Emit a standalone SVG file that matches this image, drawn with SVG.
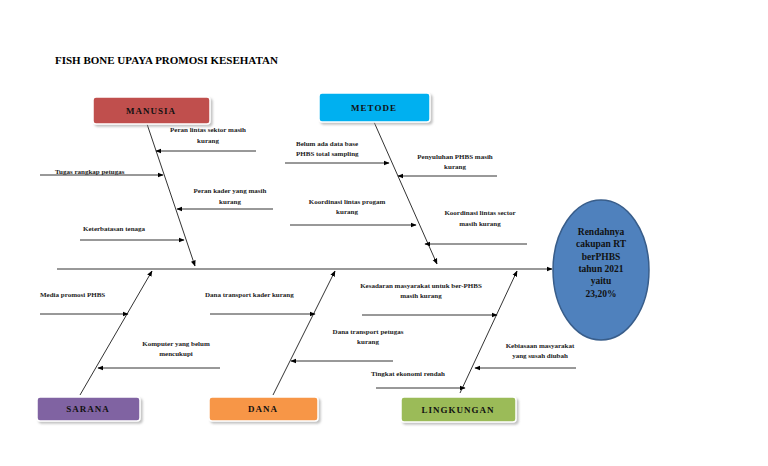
<svg xmlns="http://www.w3.org/2000/svg" width="768" height="466" viewBox="0 0 768 466">
<defs>
<marker id="ah" viewBox="0 0 10 10" refX="9" refY="5" markerWidth="6" markerHeight="6" orient="auto"><path d="M0,1 L10,5 L0,9 z" fill="#000"/></marker>
<filter id="sh" x="-10%" y="-10%" width="130%" height="140%"><feDropShadow dx="2" dy="2" stdDeviation="1" flood-color="#999" flood-opacity="0.6"/></filter>
</defs>
<style>
.t{font-family:"Liberation Serif",serif;font-size:7px;font-weight:bold;fill:#222}
.c{text-anchor:middle}
.b{font-family:"Liberation Serif",serif;font-size:9px;font-weight:bold;letter-spacing:1px;text-anchor:middle;fill:#111}
.l{stroke:#333;stroke-width:1;fill:none;marker-end:url(#ah)}
.box{stroke:#fff;stroke-width:1.5;filter:url(#sh)}
</style>
<rect width="768" height="466" fill="#fff"/>
<text x="55" y="64" font-family="Liberation Serif,serif" font-size="11" font-weight="bold">FISH BONE UPAYA PROMOSI KESEHATAN</text>
<g id="connectors">
<line class="l" x1="57" y1="269" x2="552" y2="269"/>
<line class="l" x1="147" y1="124" x2="195" y2="266"/>
<line class="l" x1="374" y1="122" x2="437" y2="264"/>
<line class="l" x1="80" y1="395" x2="152" y2="271"/>
<line class="l" x1="273" y1="395" x2="335" y2="271"/>
<line class="l" x1="460" y1="393" x2="517" y2="271"/>
<line class="l" x1="256" y1="151" x2="156" y2="151"/>
<line class="l" x1="40" y1="175" x2="163" y2="175"/>
<line class="l" x1="273" y1="209" x2="177" y2="209"/>
<line class="l" x1="80" y1="240" x2="184" y2="240"/>
<line class="l" x1="285" y1="163" x2="389" y2="163"/>
<line class="l" x1="497" y1="176" x2="398" y2="176"/>
<line class="l" x1="290" y1="225" x2="416" y2="225"/>
<line class="l" x1="527" y1="244" x2="425" y2="244"/>
<line class="l" x1="40" y1="314" x2="128" y2="314"/>
<line class="l" x1="220" y1="368" x2="98" y2="368"/>
<line class="l" x1="210" y1="314" x2="315" y2="314"/>
<line class="l" x1="393" y1="361" x2="291" y2="361"/>
<line class="l" x1="362" y1="315" x2="497" y2="315"/>
<line class="l" x1="576" y1="368" x2="475" y2="368"/>
<line class="l" x1="376" y1="388" x2="465" y2="388"/>
</g>
<g id="manusia"><rect class="box" x="93" y="97" width="117" height="27" rx="3" fill="#c0504d"/><text class="b" x="151" y="114">MANUSIA</text></g>
<g id="metode"><rect class="box" x="319" y="93" width="111" height="29" rx="3" fill="#00b0f0"/><text class="b" x="374" y="111">METODE</text></g>
<g id="sarana"><rect class="box" x="37" y="397" width="103" height="24" rx="3" fill="#8064a2"/><text class="b" x="88" y="412">SARANA</text></g>
<g id="dana"><rect class="box" x="209" y="397" width="109" height="24" rx="3" fill="#f79646"/><text class="b" x="263" y="412">DANA</text></g>
<g id="lingkungan"><rect class="box" x="401" y="397" width="115" height="25" rx="3" fill="#9bbb59"/><text class="b" x="458" y="413">LINGKUNGAN</text></g>
<g id="effect"><ellipse cx="601" cy="270" rx="48" ry="70" fill="#4f81bd" stroke="#385d8a" stroke-width="1.5"/>
<g font-family="Liberation Serif,serif" font-size="9.5" font-weight="bold" text-anchor="middle" fill="#111">
<text x="601" y="235">Rendahnya</text><text x="601" y="247">cakupan RT</text><text x="601" y="260">berPHBS</text><text x="601" y="272">tahun 2021</text><text x="601" y="284">yaitu</text><text x="601" y="297">23,20%</text></g></g>
<g id="labels">
<text class="t c" x="208" y="132">Peran lintas sektor masih</text><text class="t c" x="208" y="143">kurang</text>
<text class="t" x="55" y="174">Tugas rangkap petugas</text>
<text class="t c" x="230" y="193">Peran kader yang masih</text><text class="t c" x="230" y="204">kurang</text>
<text class="t" x="83" y="231">Keterbatasan tenaga</text>
<text class="t" x="296" y="146">Belum ada data base</text><text class="t" x="296" y="156">PHBS total sampling</text>
<text class="t c" x="455" y="159">Penyuluhan PHBS masih</text><text class="t c" x="455" y="169">kurang</text>
<text class="t c" x="347" y="204">Koordinasi lintas progam</text><text class="t c" x="347" y="214">kurang</text>
<text class="t c" x="480" y="215">Koordinasi lintas sector</text><text class="t c" x="480" y="226">masih kurang</text>
<text class="t" x="40" y="297">Media promosi PHBS</text>
<text class="t c" x="176" y="346">Komputer yang belum</text><text class="t c" x="176" y="356">mencukupi</text>
<text class="t" x="205" y="297">Dana transport kader kurang</text>
<text class="t c" x="368" y="334">Dana transport petugas</text><text class="t c" x="368" y="344">kurang</text>
<text class="t c" x="421" y="288">Kesadaran masyarakat untuk ber-PHBS</text><text class="t c" x="421" y="298">masih kurang</text>
<text class="t c" x="540" y="348">Kebiasaan masyarakat</text><text class="t c" x="540" y="358">yang susah diubah</text>
<text class="t c" x="408" y="376">Tingkat ekonomi rendah</text>
</g>
</svg>
